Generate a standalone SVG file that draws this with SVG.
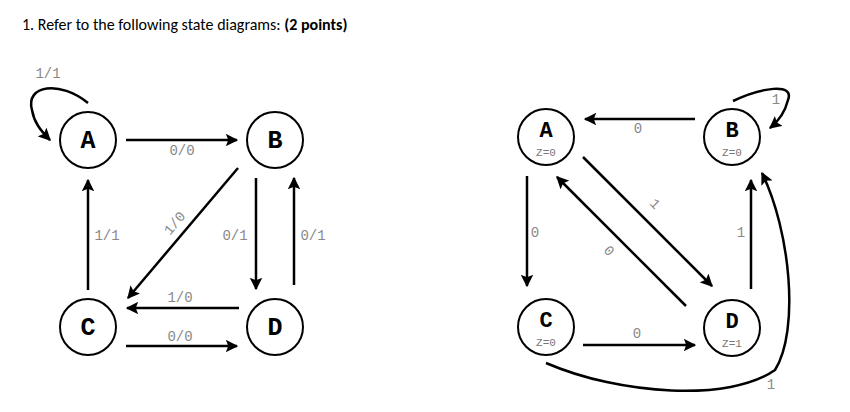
<svg xmlns="http://www.w3.org/2000/svg" width="850" height="412" viewBox="0 0 850 412">
<style>
.n{fill:#fff;stroke:#000;stroke-width:2}
.s{font-family:"Liberation Mono","Courier New",monospace;font-weight:bold;font-size:25px;text-anchor:middle}
.s2{font-family:"Liberation Mono","Courier New",monospace;font-weight:bold;font-size:22px;text-anchor:middle}
.z{font-family:"Liberation Mono","Courier New",monospace;font-size:11px;fill:#777;text-anchor:middle}
.l{font-family:"Liberation Mono","Courier New",monospace;font-size:14px;fill:#888;text-anchor:middle}
.e{fill:none;stroke:#000;stroke-width:2.5;marker-end:url(#ah)}
</style>
<defs><marker id="ah" viewBox="0 0 10 10" refX="9" refY="5" markerWidth="5" markerHeight="5" orient="auto" markerUnits="strokeWidth"><path d="M0,0 L10,5 L0,10 L2,5 z" fill="#000"/></marker></defs>
<text x="22" y="30" font-family="Carlito,'Liberation Sans',Arial,sans-serif" font-size="16">1.  Refer to the following state diagrams: <tspan font-weight="bold">(2 points)</tspan></text>
<g id="edges">
<path class="e" d="M126,140 L237,140"/><text class="l" x="182" y="155">0/0</text>
<path class="e" d="M256,178 L256,289"/><text class="l" x="235" y="240">0/1</text>
<path class="e" d="M294,285 L294,178"/><text class="l" x="313" y="240">0/1</text>
<path class="e" d="M239,308 L127,308"/><text class="l" x="180" y="302">1/0</text>
<path class="e" d="M126,346 L237,346"/><text class="l" x="180" y="341">0/0</text>
<path class="e" d="M88,290 L88,180"/><text class="l" x="107" y="240">1/1</text>
<path class="e" d="M238,168 L128,298"/><text class="l" x="0" y="0" transform="translate(178,226) rotate(-50)">1/0</text>
<path class="e" d="M88,103 C60,80 25,85 32,110 C34,122 40,130 50,140"/><text class="l" x="48" y="78">1/1</text>
<path class="e" d="M695,119 L585,119"/><text class="l" x="638" y="133">0</text>
<path class="e" d="M583,157 L712,286"/><text class="l" x="0" y="0" transform="translate(652,207) rotate(45)">1</text>
<path class="e" d="M686,306 L557,177"/><text class="l" x="0" y="0" transform="translate(606,254) rotate(45)">0</text>
<path class="e" d="M527,176 L527,286"/><text class="l" x="535" y="237">0</text>
<path class="e" d="M583,345 L695,345"/><text class="l" x="637" y="338">0</text>
<path class="e" d="M751,289 L751,180"/><text class="l" x="741" y="237">1</text>
<path class="e" d="M546,363 C620,395 730,402 775,370 C800,330 790,230 762,173"/><text class="l" x="771" y="389">1</text>
<path class="e" d="M733,101 C760,88 795,82 788,100 C785,112 780,120 770,128"/><text class="l" x="776" y="104">1</text>
</g>
<g id="A1"><circle class="n" cx="88" cy="140" r="28"/><text class="s" x="88" y="148">A</text></g>
<g id="B1"><circle class="n" cx="275" cy="140" r="28"/><text class="s" x="275" y="148">B</text></g>
<g id="C1"><circle class="n" cx="88" cy="327" r="28"/><text class="s" x="88" y="335">C</text></g>
<g id="D1"><circle class="n" cx="275" cy="327" r="28"/><text class="s" x="275" y="335">D</text></g>
<g id="A2"><circle class="n" cx="546" cy="137" r="28"/><text class="s2" x="546" y="137">A</text><text class="z" x="546" y="156">Z=0</text></g>
<g id="B2"><circle class="n" cx="732" cy="137" r="28"/><text class="s2" x="732" y="137">B</text><text class="z" x="732" y="156">Z=0</text></g>
<g id="C2"><circle class="n" cx="546" cy="327" r="28"/><text class="s2" x="546" y="327">C</text><text class="z" x="546" y="346">Z=0</text></g>
<g id="D2"><circle class="n" cx="732" cy="328" r="28"/><text class="s2" x="732" y="328">D</text><text class="z" x="732" y="347">Z=1</text></g>
</svg>
